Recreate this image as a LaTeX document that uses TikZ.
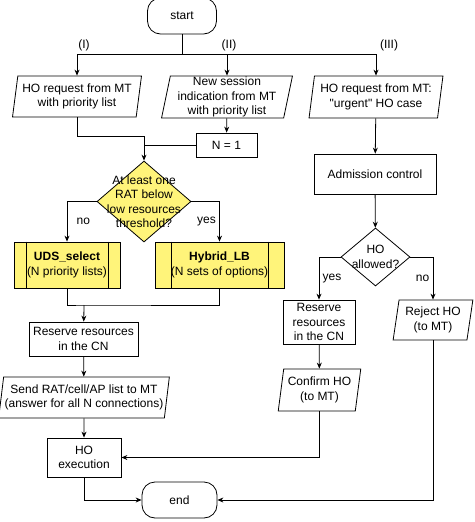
\documentclass[tikz,border=0pt]{standalone}
\usepackage{fontspec}
\setmainfont{Liberation Sans}
\usepackage{xcolor}
\usepackage{tikz}
\usetikzlibrary{shapes.geometric, arrows, arrows.meta, calc}
\definecolor{predefyellow}{RGB}{255,244,122}
\tikzstyle{process} = [rectangle, draw=black, align=center, inner sep=1pt]
\tikzstyle{decision} = [diamond, draw=black, inner sep=0pt]
\tikzstyle{io} = [trapezium, trapezium left angle=79, trapezium right angle=101, trapezium stretches=true, draw=black, align=center, inner xsep=1pt, inner ysep=0pt]
\tikzstyle{terminal} = [rectangle, rounded corners=13pt, draw=black, align=center]
\tikzstyle{predef} = [rectangle, draw=black, fill=predefyellow, align=center, inner sep=1pt]
\tikzstyle{arrow} = [->,>={Stealth[length=6pt,width=5pt]}]

\begin{document}
\begin{tikzpicture}[x=1pt, y=-1pt, line width=0.8pt, font=\fontsize{12}{14.5}\selectfont]
\clip (0,0) rectangle (474,522);

% Start
\node[terminal, minimum width=69pt, minimum height=36pt] (start) at (182,16) {start};
\coordinate (split) at (182,54);

% Cases
\node at (84,45) (lblI) {(I)};
\node at (229,45) (lblII) {(II)};
\node at (389,45) (lblIII) {(III)};

% Requests
\node[io, minimum width=129pt, minimum height=41pt] (req1) at (77,96.5) {HO request from MT\\with priority list};
\node[io, minimum width=131pt, minimum height=42pt] (req2) at (227,97) {New session\\indication from MT\\with priority list};
\node[io, minimum width=134pt, minimum height=42pt] (req3) at (376,97) {HO request from MT:\\\textquotedbl urgent\textquotedbl{} HO case};

% Left branch
\node[process, minimum width=61pt, minimum height=24pt] (n1) at (226.5,145) {N = 1};
\coordinate (join) at (144,136);
\node[decision, fill=predefyellow, minimum width=94pt, minimum height=81pt,
  label={[align=center]center:{At least one\\RAT below\\low resources\\threshold?}}] (rat) at (144,201.5) {};

\node[predef, minimum width=106pt, minimum height=46pt] (uds) at (67,265) {\textbf{UDS\_select}\\(N priority lists)};
\node[predef, minimum width=129pt, minimum height=46pt] (hyb) at (219.5,265) {\textbf{Hybrid\_LB}\\(N sets of options)};
\draw ($(uds.north west)+(13,0)$) -- ($(uds.south west)+(13,0)$);
\draw ($(uds.north east)+(-12,0)$) -- ($(uds.south east)+(-12,0)$);
\draw ($(hyb.north west)+(17,0)$) -- ($(hyb.south west)+(17,0)$);
\draw ($(hyb.north east)+(-16,0)$) -- ($(hyb.south east)+(-16,0)$);
\coordinate (merge) at (84,305);

\node[process, minimum width=109pt, minimum height=34pt] (res1) at (83.5,339) {Reserve resources\\in the CN};
\node[io, minimum width=166pt, minimum height=41pt] (send) at (84,397.5) {Send RAT/cell/AP list to MT\\(answer for all N connections)};
\node[process, minimum width=74pt, minimum height=39pt] (hoexec) at (84,457.5) {HO\\execution};

% End
\node[terminal, minimum width=75pt, minimum height=36pt] (end) at (179.5,500) {end};

% Right branch
\node[process, minimum width=122pt, minimum height=40pt] (adm) at (375,174) {Admission control};
\node[decision, minimum width=69pt, minimum height=58pt,
  label={[align=center]center:{HO\\allowed?}}] (allow) at (375.5,257) {};
\node[process, minimum width=72pt, minimum height=44pt] (res2) at (319,322) {Reserve\\resources\\in the CN};
\node[io, minimum width=83pt, minimum height=42pt] (confirm) at (319.5,390) {Confirm HO\\(to MT)};
\node[io, minimum width=80pt, minimum height=40pt] (reject) at (433,320) {Reject HO\\(to MT)};

% Arrows
\draw (start) -- (split);
\draw[arrow] (split) -| (req1.north);
\draw[arrow] (split) -| (req2.north);
\draw[arrow] (split) -| (req3.north);
\draw (req1.south) |- (join);
\draw[arrow] (join) -- (rat.north);
\draw[arrow] (req2) -- (n1);
\draw (n1.west) -- (n1.west -| join);
\draw[arrow] (rat.west) -| node[pos=0.75, right=6pt] {no} (uds.north);
\draw[arrow] (rat.east) -| node[pos=0.75, left] {yes} (hyb.north);
\draw (uds.south) |- (merge) -| (hyb.south);
\draw[arrow] (merge) -- (res1);
\draw[arrow] (res1) -- (send);
\draw[arrow] (send) -- (hoexec);
\draw[arrow] (hoexec.south) |- (end.west);
\draw[arrow] (req3) -- (adm);
\draw[arrow] (adm) -- (allow);
\draw[arrow] (allow.west) -| node[pos=0.75, right] {yes} (res2.north);
\draw[arrow] (allow.east) -| node[pos=0.75, left] {no} (reject.north);
\draw[arrow] (res2) -- (confirm);
\draw[arrow] (confirm.south) |- (hoexec.east);
\draw[arrow] (reject.south) |- (end.east);
\end{tikzpicture}
\end{document}
